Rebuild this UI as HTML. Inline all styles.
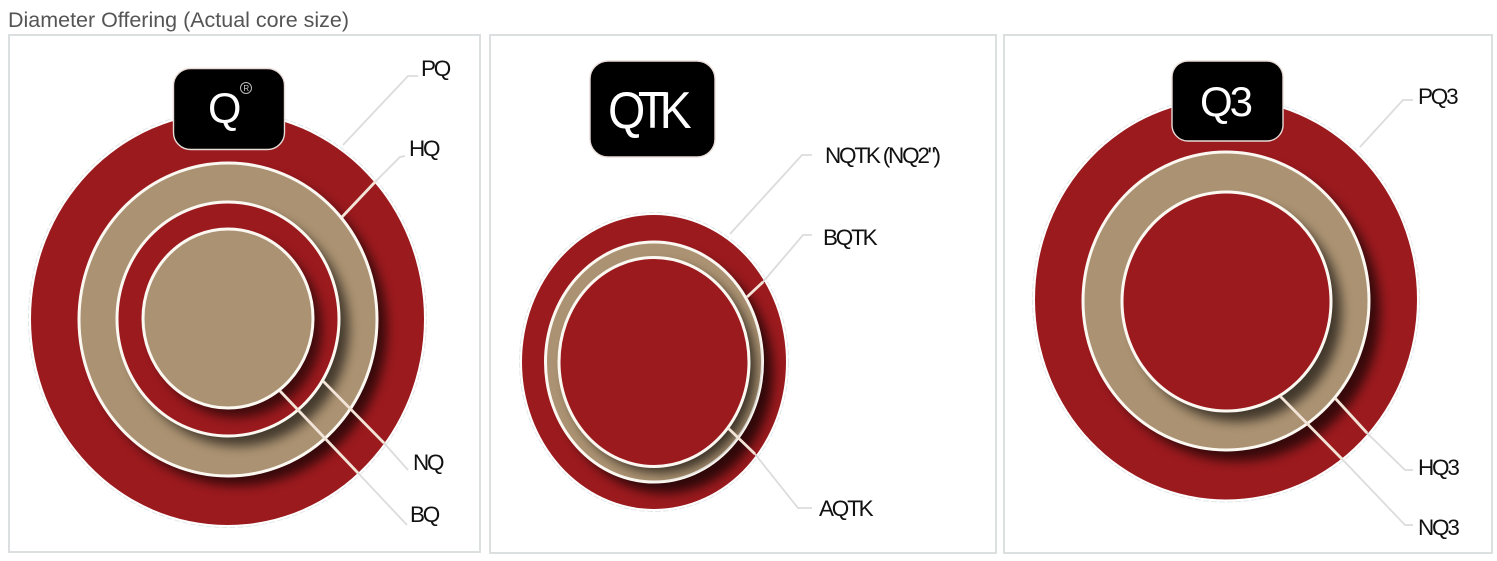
<!DOCTYPE html>
<html>
<head>
<meta charset="utf-8">
<style>
html,body{margin:0;padding:0;background:#fff;width:1497px;height:561px;overflow:hidden}
svg{display:block}
text{font-family:"Liberation Sans",sans-serif}
.l{font-size:22.5px;fill:#111;letter-spacing:-2.2px}
.t{fill:#fff}
.g{fill:none;stroke:#dcdcdc;stroke-width:1.8}
.w{fill:none;stroke:#f3e4d8;stroke-width:2.8}
.p{fill:#fff;stroke:#dcdfe0;stroke-width:2}
.r{fill:#9b1a1e}
.a{fill:#ab9272}
.e{stroke:#fbf8f2;stroke-width:3}
.o{stroke:#e3e8e8;stroke-width:1;stroke-dasharray:6 2}
.b{fill:#000;stroke:#e8dcd8;stroke-width:1.4}
</style>
</head>
<body>
<svg width="1497" height="561" viewBox="0 0 1497 561" xmlns="http://www.w3.org/2000/svg">
<defs>
<filter id="s" x="-30%" y="-30%" width="160%" height="160%"><feGaussianBlur stdDeviation="5.5"/></filter>
<clipPath id="c1o"><ellipse cx="227.5" cy="319" rx="196.5" ry="206"/></clipPath>
<clipPath id="c1a"><ellipse cx="228" cy="319.5" rx="149" ry="156.5"/></clipPath>
<clipPath id="c1b"><ellipse cx="228" cy="319" rx="111" ry="117"/></clipPath>
<clipPath id="c2o"><ellipse cx="654" cy="362" rx="132" ry="147"/></clipPath>
<clipPath id="c2a"><ellipse cx="654" cy="362" rx="108.5" ry="120"/></clipPath>
<clipPath id="c3o"><ellipse cx="1226" cy="299.5" rx="191" ry="200"/></clipPath>
<clipPath id="c3a"><ellipse cx="1226" cy="301" rx="143" ry="149"/></clipPath>
</defs>

<text x="8" y="27" font-size="21" fill="#555" textLength="341" lengthAdjust="spacingAndGlyphs">Diameter Offering (Actual core size)</text>

<rect class="p" x="9" y="35" width="471" height="517"/>
<rect class="p" x="490" y="35" width="506" height="518"/>
<rect class="p" x="1004" y="35" width="488" height="518"/>

<!-- Panel 1 -->
<ellipse class="o" fill="none" cx="227.5" cy="319" rx="199" ry="208.5"/>
<ellipse class="r" cx="227.5" cy="319" rx="196.5" ry="206"/>
<g clip-path="url(#c1o)"><ellipse cx="238" cy="329" rx="149" ry="156.5" fill="#000" opacity=".65" filter="url(#s)"/></g>
<ellipse class="a e" cx="228" cy="319.5" rx="149" ry="156.5"/>
<g clip-path="url(#c1a)"><ellipse cx="238" cy="329" rx="111" ry="117" fill="#000" opacity=".6" filter="url(#s)"/></g>
<ellipse class="r e" cx="228" cy="319" rx="111" ry="117"/>
<g clip-path="url(#c1b)"><ellipse cx="237" cy="328" rx="85" ry="89.5" fill="#000" opacity=".6" filter="url(#s)"/></g>
<ellipse class="a e" cx="228" cy="318.5" rx="85" ry="89.5"/>
<polyline class="g" points="343,145 408,76 418,76"/>
<line class="w" x1="342" y1="217" x2="376" y2="181"/>
<polyline class="g" points="376,181 400,157 405,156"/>
<line class="w" x1="323" y1="381" x2="384" y2="443"/>
<polyline class="g" points="384,443 408,470"/>
<line class="w" x1="280" y1="391" x2="358" y2="473"/>
<polyline class="g" points="358,473 407,525"/>
<rect class="b" x="173.5" y="68.5" width="111" height="81" rx="17"/>
<text class="t" x="208" y="123" font-size="43">Q</text>
<circle cx="246" cy="88" r="5.5" fill="none" stroke="#bbb" stroke-width="1"/>
<text x="243.4" y="91" font-size="8" fill="#ccc">R</text>
<text class="l" x="421" y="76">PQ</text>
<text class="l" x="409" y="156">HQ</text>
<text class="l" x="413" y="470">NQ</text>
<text class="l" x="410" y="522">BQ</text>

<!-- Panel 2 -->
<ellipse class="o" fill="none" cx="654" cy="362" rx="134.5" ry="149.5"/>
<ellipse class="r" cx="654" cy="362" rx="132" ry="147"/>
<g clip-path="url(#c2o)"><ellipse cx="665" cy="373" rx="108" ry="120" fill="#000" opacity=".7" filter="url(#s)"/></g>
<ellipse class="a e" cx="654" cy="362" rx="108.5" ry="120"/>
<g clip-path="url(#c2a)"><ellipse cx="661" cy="369" rx="95" ry="104" fill="#000" opacity=".65" filter="url(#s)"/></g>
<ellipse class="r e" cx="654" cy="362" rx="95" ry="104.5"/>
<polyline class="g" points="730,234 802,155 812,155"/>
<line class="w" x1="747" y1="297" x2="763" y2="282"/>
<polyline class="g" points="763,282 803,235 812,235"/>
<line class="w" x1="728" y1="428" x2="755" y2="454"/>
<polyline class="g" points="755,454 798,508 812,508"/>
<rect class="b" x="590" y="61" width="125" height="96" rx="18"/>
<text class="t" transform="translate(608,128) scale(1,1.08)" font-size="48" letter-spacing="-7.5">QTK</text>
<text class="l" x="825" y="163">NQTK (NQ2")</text>
<text class="l" x="823" y="245">BQTK</text>
<text class="l" x="819" y="516">AQTK</text>

<!-- Panel 3 -->
<ellipse class="o" fill="none" cx="1226" cy="299.5" rx="193.5" ry="202.5"/>
<ellipse class="r" cx="1226" cy="299.5" rx="191" ry="200"/>
<g clip-path="url(#c3o)"><ellipse cx="1237" cy="312" rx="143" ry="149" fill="#000" opacity=".65" filter="url(#s)"/></g>
<ellipse class="a e" cx="1226" cy="301" rx="143" ry="149"/>
<g clip-path="url(#c3a)"><ellipse cx="1237" cy="312" rx="104.5" ry="109.5" fill="#000" opacity=".62" filter="url(#s)"/></g>
<ellipse class="r e" cx="1226.5" cy="301.5" rx="104.5" ry="109.5"/>
<polyline class="g" points="1360,147 1403,100 1413,100"/>
<line class="w" x1="1335" y1="398" x2="1367" y2="433"/>
<polyline class="g" points="1367,433 1405,470 1413,470"/>
<line class="w" x1="1280" y1="396" x2="1342" y2="459"/>
<polyline class="g" points="1342,459 1405,525 1413,525"/>
<rect class="b" x="1172" y="61" width="111" height="80" rx="16"/>
<text class="t" x="1200" y="116" font-size="42" letter-spacing="-3">Q3</text>
<text class="l" x="1418" y="104">PQ3</text>
<text class="l" x="1418" y="475">HQ3</text>
<text class="l" x="1418" y="535">NQ3</text>
</svg>
</body>
</html>
